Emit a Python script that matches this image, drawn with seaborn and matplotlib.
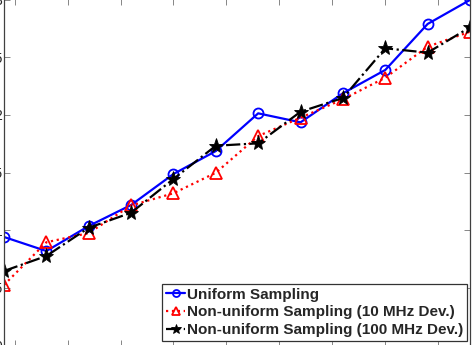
import matplotlib
matplotlib.use("Agg")
import matplotlib.pyplot as plt
import seaborn as sns
import pandas as pd

# Sweep positions and measured curves
x_vals = [-1, 3, 7, 11, 15, 19, 23, 27, 31, 35, 39, 43]
uniform = [0.941, 0.819, 1.036, 1.218, 1.487, 1.686, 2.013, 1.935, 2.187, 2.389, 2.788, 2.996]
nonuni_10 = [0.525, 0.895, 0.975, 1.214, 1.320, 1.498, 1.816, 1.975, 2.135, 2.322, 2.591, 2.721]
nonuni_100 = [0.646, 0.776, 1.021, 1.151, 1.444, 1.732, 1.753, 2.027, 2.146, 2.577, 2.539, 2.759]

labels = ["Uniform Sampling",
          "Non-uniform Sampling (10 MHz Dev.)",
          "Non-uniform Sampling (100 MHz Dev.)"]
x_ticks = [0, 5, 10, 15, 20, 25, 30, 35, 40]
y_ticks = [0, 0.5, 1, 1.5, 2, 2.5, 3]
y_ticklabels = ["0", "0.5", "1", "1.5", "2", "2.5", "3"]

sns.set_style("white")
plt.rcParams["font.family"] = ["Liberation Sans", "DejaVu Sans"]

W, H = 474, 345
fig = plt.figure(figsize=(W / 100, H / 100), dpi=100)
ax = fig.add_axes([4 / W, -0.5 / H, 466 / W, 346 / H])

df = pd.DataFrame({"x": x_vals, "u": uniform, "n10": nonuni_10, "n100": nonuni_100})

sns.lineplot(data=df, x="x", y="u", ax=ax, color=(0, 0, 1), linestyle="-", lw=1.6,
             marker="o", markersize=7.2, markerfacecolor="none",
             markeredgecolor=(0, 0, 1), markeredgewidth=1.3, label=labels[0])
sns.lineplot(data=df, x="x", y="n10", ax=ax, color=(1, 0, 0), linestyle=":", lw=1.6,
             marker="^", markersize=8, markerfacecolor="none",
             markeredgecolor=(1, 0, 0), markeredgewidth=1.3, label=labels[1])
sns.lineplot(data=df, x="x", y="n100", ax=ax, color="black", linestyle="-.", lw=1.6,
             marker="*", markersize=11, markerfacecolor="black",
             markeredgecolor="black", markeredgewidth=0.6, label=labels[2])

ax.set_xlim(x_vals[0], x_vals[-1])
ax.set_ylim(0, 3)
ax.set_xticks(x_ticks)
ax.set_xticklabels([])
ax.set_yticks(y_ticks)
ax.set_yticklabels(y_ticklabels, fontsize=10)
ax.set_xlabel("")
ax.set_ylabel("")
ax.tick_params(axis="both", direction="in", length=4, width=0.6, color="0.45",
               top=True, bottom=True, left=True, right=True, pad=1)

for side in ("top", "bottom"):
    ax.spines[side].set_visible(False)
for side in ("left", "right"):
    ax.spines[side].set_color("0.25")
    ax.spines[side].set_linewidth(0.9)

leg = ax.legend(loc="lower right", bbox_to_anchor=((467 - 4) / 466, (345.5 - 341) / 346),
                borderaxespad=0, fancybox=False, framealpha=1, edgecolor="0.2",
                prop={"family": "Liberation Sans", "weight": "bold", "size": 11},
                handlelength=1.25, handletextpad=0.12, labelspacing=0.25,
                borderpad=0.25, markerscale=0.7)
leg.get_frame().set_linewidth(0.9)

fig.savefig("out.png", dpi=100)
